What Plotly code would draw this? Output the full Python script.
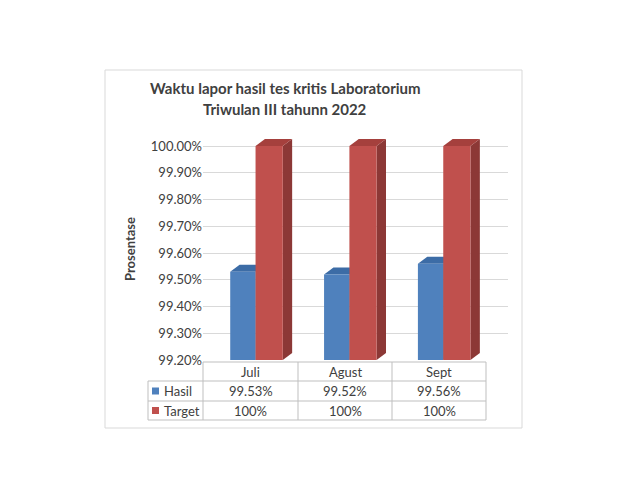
import plotly.graph_objects as go

categories = ["Juli", "Agust", "Sept"]
hasil = [99.53, 99.52, 99.56]
target = [100.0, 100.0, 100.0]
hasil_lbl = ["99.53%", "99.52%", "99.56%"]
target_lbl = ["100%", "100%", "100%"]

BASE = 99.2
DX, DY = 0.1, 0.026
X0, X1, Y0, Y1 = 195, 500, 352, 130  # plot pixels
FONT = "Lato"

def px(x): return (x - X0) / (X1 - X0)
def py(y): return (Y0 - y) / (Y0 - Y1)

fig = go.Figure()

def bar3d(xl, xr, v, front, side, top, name):
    fig.add_trace(go.Scatter(x=[xr, xr + DX, xr + DX, xr, xr], y=[BASE, BASE + DY, v + DY, v, BASE],
                             fill="toself", fillcolor=side, line=dict(width=0), mode="lines",
                             hoverinfo="skip", showlegend=False))
    fig.add_trace(go.Scatter(x=[xl, xr, xr + DX, xl + DX, xl], y=[v, v, v + DY, v + DY, v],
                             fill="toself", fillcolor=top, line=dict(width=0), mode="lines",
                             hoverinfo="skip", showlegend=False))
    fig.add_trace(go.Scatter(x=[xl, xr, xr, xl, xl], y=[BASE, BASE, v, v, BASE],
                             fill="toself", fillcolor=front, line=dict(width=0), mode="lines",
                             name=name, showlegend=False))

for i in range(3):
    bar3d(i - 0.21, i + 0.06, hasil[i], "#4F81BD", "#385D8A", "#3C6CA6", "Hasil")
    bar3d(i + 0.06, i + 0.35, target[i], "#C0504D", "#8C3836", "#A5403D", "Target")

fig.update_xaxes(range=[-0.5, 2.75], visible=False, automargin=False)
fig.update_yaxes(range=[BASE, 100.03], tickvals=[99.2 + 0.1 * k for k in range(9)],
                 ticktext=[f"{99.2 + 0.1 * k:.2f}%" for k in range(9)], automargin=False,
                 gridcolor="#D9D9D9", showline=False, zeroline=False,
                 tickfont=dict(family=FONT, size=13, color="#404040"), ticklen=8, ticks="",
                 title=dict(text="<b>Prosentase</b>", font=dict(family=FONT, size=13, color="#404040"), standoff=12))

shapes = []
L = dict(color="#BFBFBF", width=1)
def line(x0, y0, x1, y1):
    shapes.append(dict(type="line", xref="paper", yref="paper", x0=px(x0), y0=py(y0), x1=px(x1), y1=py(y1), line=L))
cols = [195, 290, 384, 478]
rows = [354, 373, 393, 412]
for c in cols: line(c, 354, c, 412)
line(140, 373, 140, 412)
line(195, 354, 478, 354)
for r in rows[1:]: line(140, r, 478, r)
shapes.append(dict(type="rect", xref="paper", yref="paper", x0=px(97), y0=py(62), x1=px(514), y1=py(420),
                   line=dict(color="#D9D9D9", width=1)))
for k, col in enumerate(["#4F81BD", "#C0504D"]):
    yc = (rows[k + 1] + rows[k + 2]) / 2
    shapes.append(dict(type="rect", xref="paper", yref="paper", x0=px(144), x1=px(151), y0=py(yc + 3.5), y1=py(yc - 3.5),
                       fillcolor=col, line=dict(width=0)))

ann = []
def txt(x, y, t, size=13, anchor="center", bold=False):
    ann.append(dict(x=px(x), y=py(y), xref="paper", yref="paper", text=f"<b>{t}</b>" if bold else t, showarrow=False,
                    xanchor=anchor, yanchor="middle", font=dict(family=FONT, size=size, color="#404040")))
for i in range(3):
    cx = (cols[i] + cols[i + 1]) / 2
    txt(cx, 364, categories[i])
    txt(cx, 383, hasil_lbl[i])
    txt(cx, 403, target_lbl[i])
txt(154, 383, "Hasil", anchor="left")
txt(154, 403, "Target", anchor="left")
txt(277, 80, "Waktu lapor hasil tes kritis Laboratorium", size=15, bold=True)
txt(277, 101, "Triwulan III tahunn 2022", size=15, bold=True)

fig.update_layout(width=638, height=478, margin=dict(l=X0, r=638 - X1, t=Y1, b=478 - Y0, autoexpand=False),
                  plot_bgcolor="white", paper_bgcolor="white", shapes=shapes, annotations=ann, showlegend=False)
fig.write_html("out.html")
